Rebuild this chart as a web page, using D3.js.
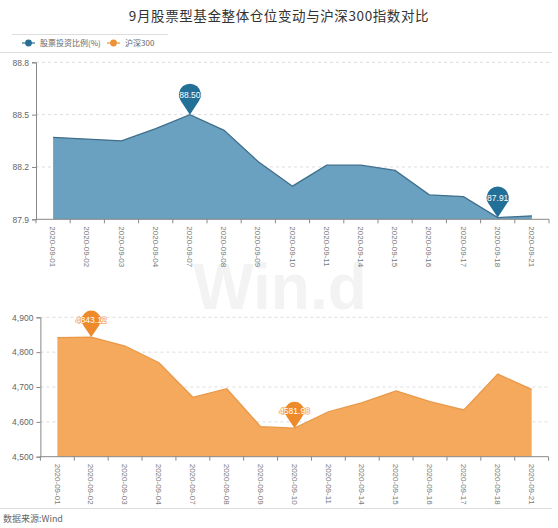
<!DOCTYPE html>
<html><head><meta charset="utf-8">
<script src="https://cdn.jsdelivr.net/npm/d3@7"></script>
<style>
html,body{margin:0;padding:0;background:#fff;}
svg{display:block;font-family:"Noto Sans CJK SC","Microsoft YaHei",sans-serif;}
</style></head>
<body>
<svg id="c" width="558" height="528"></svg>
<script>
const dates = ["2020-09-01","2020-09-02","2020-09-03","2020-09-04","2020-09-07","2020-09-08","2020-09-09","2020-09-10","2020-09-11","2020-09-14","2020-09-15","2020-09-16","2020-09-17","2020-09-18","2020-09-21"];
const stockRatio = [88.37,88.36,88.35,88.42,88.50,88.41,88.23,88.09,88.21,88.21,88.18,88.04,88.03,87.91,87.92];
const csi300 = [4841.8,4843.12,4817.6,4769.7,4670.4,4695.0,4586.3,4581.98,4629.0,4655.0,4689.0,4658.0,4634.0,4737.0,4693.0];
const topTicks = [87.9,88.2,88.5,88.8];
const botTicks = [4500,4600,4700,4800,4900];
const title = "9月股票型基金整体仓位变动与沪深300指数对比";
const legendNames = ["股票投资比例(%)","沪深300"];
const source = "数据来源:Wind";

const svg = d3.select("#c");

// watermark
svg.append("text").attr("x",280).attr("y",309).attr("text-anchor","middle")
  .attr("font-family","Arial, Liberation Sans, sans-serif").attr("font-weight","bold")
  .attr("font-size",64).attr("fill","#f3f3f3").text("Win.d");

// title
svg.append("text").attr("x",279).attr("y",21).attr("text-anchor","middle")
  .attr("font-size",13.5).attr("fill","#333").attr("letter-spacing",0.6).text(title);

// legend
svg.append("line").attr("x1",12).attr("x2",168).attr("y1",34.5).attr("y2",34.5).attr("stroke","#ddd");
svg.append("line").attr("x1",0).attr("x2",552).attr("y1",52.5).attr("y2",52.5).attr("stroke","#ddd");
const legColors = ["#2a6f93","#ec9435"];
const legX = [22,107];
legendNames.forEach((n,i)=>{
  const g = svg.append("g").attr("transform",`translate(${legX[i]},43)`);
  g.append("line").attr("x1",0).attr("x2",13).attr("stroke",legColors[i]).attr("stroke-width",1.2);
  g.append("circle").attr("cx",6.5).attr("r",3.4).attr("fill",legColors[i]);
  g.append("text").attr("x",18).attr("dy","0.35em").attr("font-size",8).attr("fill","#666").text(n);
});

function pin(g, x, y, label, color, r, d){
  const a = Math.asin(r/d);
  const tx = r*Math.cos(a), ty = -d + r*Math.sin(a);
  const p = `M0,0 L${-tx},${ty} A${r},${r} 0 1 1 ${tx},${ty} Z`;
  const gg = g.append("g").attr("transform",`translate(${x},${y})`);
  gg.append("path").attr("d",p).attr("fill",color);
  gg.append("text").attr("y",-d).attr("dy","0.35em").attr("text-anchor","middle")
    .attr("font-size",8.5).attr("font-family","Liberation Sans, Arial, sans-serif")
    .attr("fill","#fff").attr("stroke",color).attr("stroke-width",1.6)
    .attr("stroke-opacity",0.7).attr("paint-order","stroke").text(label);
}

function chart(cfg){
  const g = svg.append("g");
  const x = d3.scaleBand().domain(dates).range([cfg.x0, cfg.x1]);
  const y = d3.scaleLinear().domain(cfg.domain).range([cfg.yb, cfg.yt]);
  const cx = d => x(d)+x.bandwidth()/2;
  // grid
  g.selectAll(".grid").data(cfg.ticks.slice(1)).join("line")
    .attr("x1",cfg.x0).attr("x2",cfg.x1).attr("y1",d=>y(d)).attr("y2",d=>y(d))
    .attr("stroke","#ddd").attr("stroke-dasharray","3,3");
  // area
  const data = dates.map((d,i)=>({d, v: cfg.values[i]}));
  g.append("path").datum(data)
    .attr("d", d3.area().x(p=>cx(p.d)).y0(cfg.yb).y1(p=>y(p.v)))
    .attr("fill",cfg.fill);
  g.append("path").datum(data)
    .attr("d", d3.line().x(p=>cx(p.d)).y(p=>y(p.v)))
    .attr("fill","none").attr("stroke",cfg.stroke).attr("stroke-width",1.3);
  // y axis
  const ya = g.append("g").attr("transform",`translate(${cfg.x0},0)`)
    .call(d3.axisLeft(y).tickValues(cfg.ticks).tickSize(4).tickFormat(cfg.fmt));
  ya.select(".domain").attr("stroke","#888");
  ya.selectAll(".tick line").attr("stroke","#888");
  ya.selectAll(".tick text").attr("font-size",8.5).attr("fill","#666")
    .attr("font-family","Liberation Sans, Arial, sans-serif");
  // x axis
  const xa = g.append("g").attr("transform",`translate(0,${cfg.yb})`);
  xa.append("line").attr("x1",cfg.x0).attr("x2",cfg.x1).attr("stroke","#888");
  const bounds = dates.map(d=>x(d)).concat([cfg.x1]);
  xa.selectAll(".tk").data(bounds).join("line").attr("x1",d=>d).attr("x2",d=>d)
    .attr("y1",0).attr("y2",4).attr("stroke","#888");
  xa.selectAll(".lb").data(dates).join("text")
    .attr("transform",d=>`translate(${cx(d)},7) rotate(90)`)
    .attr("dy","0.35em").attr("font-size",8).attr("fill","#777")
    .attr("font-family","Liberation Sans, Arial, sans-serif").text(d=>d);
  // pins
  const iMax = d3.maxIndex(cfg.values), iMin = d3.minIndex(cfg.values);
  [iMax, iMin].forEach(i=>{
    pin(g, cx(dates[i]), y(cfg.values[i]), cfg.values[i].toFixed(2), cfg.pin, cfg.pr, cfg.pd);
  });
}

chart({x0:36, x1:549, yb:219.3, yt:62.3, domain:[87.9,88.8], ticks:topTicks, values:stockRatio,
  fill:"#6aa0c0", stroke:"#3f6f8c", pin:"#226f98", fmt:d3.format(".1f"), pr:11, pd:20});
chart({x0:40.4, x1:548.6, yb:456.7, yt:317.3, domain:[4500,4900], ticks:botTicks, values:csi300,
  fill:"#f5a95c", stroke:"#e99848", pin:"#ed8a2c", fmt:d3.format(","), pr:9.5, pd:17});

svg.append("line").attr("x1",0).attr("x2",552).attr("y1",508.5).attr("y2",508.5).attr("stroke","#ddd");
svg.append("text").attr("x",3).attr("y",522).attr("font-size",9).attr("fill","#666").text(source);
</script>
</body></html>
